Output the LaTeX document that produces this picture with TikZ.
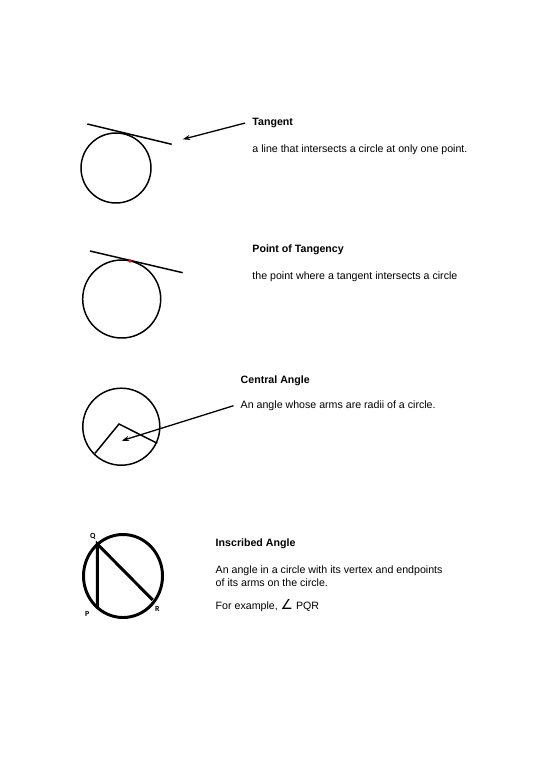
\documentclass[tikz,border=0pt]{standalone}
\usepackage{fontspec}
\setmainfont{Liberation Sans}
\newfontfamily\pointfont{Carlito}
\newfontfamily\symfont{DejaVu Sans}
\usepackage{tikz}
\usetikzlibrary{arrows.meta,positioning}

\begin{document}
\begin{tikzpicture}[x=1.0823pt, y=-1.0823pt, line width=1.6pt,
  title/.style={anchor=west, inner sep=0pt, font=\fontsize{11.5}{13}\selectfont\bfseries},
  desc/.style={anchor=west, inner sep=0pt, align=left, font=\fontsize{11.5}{14.5}\selectfont},
  pointer/.style={-{Stealth[length=8pt, width=5.5pt]}, line width=1.4pt},
  vertex/.style={font=\pointfont\fontsize{8.5}{9}\selectfont\bfseries, inner sep=0pt}]
\useasboundingbox (0,0) rectangle (550,777);

% Tangent
\draw (116,168) circle (35);
\coordinate (tanA) at (87.3,124);
\coordinate (tanB) at (171.7,144.3);
\draw (tanA) -- (tanB);
\node[title] (tangent) at (251.7,123) {Tangent};
\node[desc] (tangentDesc) at (251.7,149.3) {a line that intersects a circle at only one point.};
\coordinate (tanTip) at (182.7,139.3);
\draw[pointer] ([xshift=-7pt]tangent.west) -- (tanTip);

% Point of tangency
\draw (121.7,299) circle (39);
\coordinate (ptA) at (90,251);
\coordinate (ptB) at (182.7,272.7);
\draw (ptA) -- (ptB);
\fill[red] (130,261) circle (1.8);
\node[title] (tangency) at (251.7,250) {Point of Tangency};
\node[desc] (tangencyDesc) at (251.7,276.7) {the point where a tangent intersects a circle};

% Central angle
\draw (121.3,426.7) circle (38.5);
\coordinate (centre) at (119,424);
\coordinate (armA) at (95,453.3);
\coordinate (armB) at (157.3,443.3);
\draw (armA) -- (centre) -- (armB);
\node[title] (central) at (240,380.7) {Central Angle};
\node[desc] (centralDesc) at (240,405.7) {An angle whose arms are radii of a circle.};
\coordinate (centralTip) at (121.7,440.7);
\draw[pointer] ([xshift=-7pt]centralDesc.west) -- (centralTip);

% Inscribed angle
\draw[line width=3.2pt] (123,576) ellipse (39.5 and 41.5);
\coordinate (Q) at (97.3,544);
\coordinate (P) at (97.3,607.3);
\coordinate (R) at (152.7,600);
\draw[line width=3.2pt] (P) -- (Q) -- (R);
\node[vertex] (labQ) at (92.7,536.7) {Q};
\node[vertex] (labP) at (87.3,614.3) {P};
\node[vertex] (labR) at (157.3,609.3) {R};
\node[title] (inscribed) at (215,544) {Inscribed Angle};
\node[desc] (inscribedDesc) at (215,576) {An angle in a circle with its vertex and endpoints\\of its arms on the circle.};
\node[desc] (example) at (215,606) {For example, {\symfont\fontsize{15}{15}\selectfont ∠} PQR};

\end{tikzpicture}
\end{document}
